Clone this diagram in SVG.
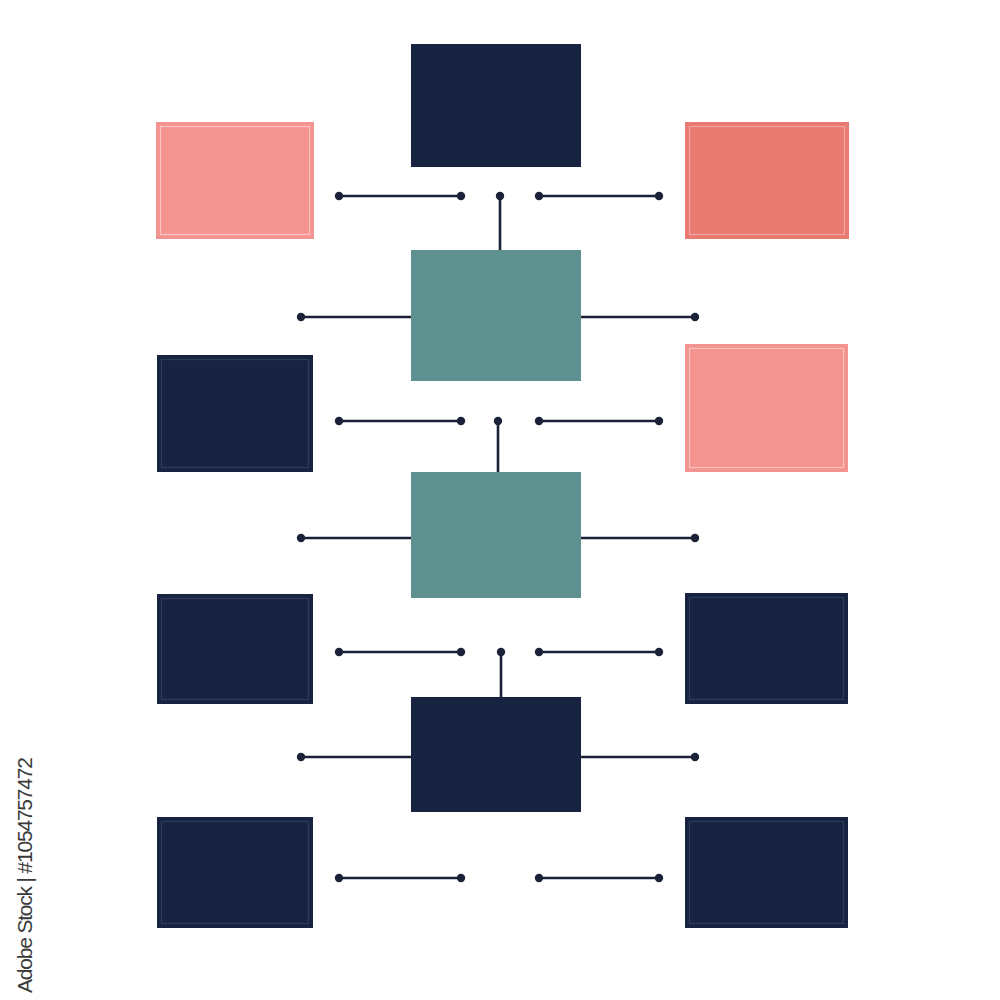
<svg xmlns="http://www.w3.org/2000/svg" width="1000" height="1000" viewBox="0 0 1000 1000">
<style>
.navy{fill:#172341}
.teal{fill:#5e9190}
.pink{fill:#f39490}
.coral{fill:#e97a71}
.inset-d{fill:none;stroke:#2e3c5c;stroke-width:1.2}
.inset-p{fill:none;stroke:#fbc3bf;stroke-width:1.2}
.conn line{stroke:#1b2238;stroke-width:2.6;stroke-linecap:round}
.conn circle{fill:#1b2238}
.credit{font-family:"Liberation Sans","Open Sans",sans-serif;font-size:21px;fill:#3a3a3a}
</style>
<rect width="1000" height="1000" fill="#ffffff"/>
<g id="connectors" class="conn">
  <line x1="339" y1="196" x2="461" y2="196"/><circle cx="339" cy="196" r="4.2"/><circle cx="461" cy="196" r="4.2"/>
  <line x1="539" y1="196" x2="659" y2="196"/><circle cx="539" cy="196" r="4.2"/><circle cx="659" cy="196" r="4.2"/>
  <line x1="500" y1="196" x2="500" y2="250"/><circle cx="500" cy="196" r="4.2"/>
  <line x1="301" y1="317" x2="411" y2="317"/><circle cx="301" cy="317" r="4.2"/>
  <line x1="581" y1="317" x2="695" y2="317"/><circle cx="695" cy="317" r="4.2"/>
  <line x1="339" y1="421" x2="461" y2="421"/><circle cx="339" cy="421" r="4.2"/><circle cx="461" cy="421" r="4.2"/>
  <line x1="539" y1="421" x2="659" y2="421"/><circle cx="539" cy="421" r="4.2"/><circle cx="659" cy="421" r="4.2"/>
  <line x1="498" y1="421" x2="498" y2="472"/><circle cx="498" cy="421" r="4.2"/>
  <line x1="301" y1="538" x2="411" y2="538"/><circle cx="301" cy="538" r="4.2"/>
  <line x1="581" y1="538" x2="695" y2="538"/><circle cx="695" cy="538" r="4.2"/>
  <line x1="339" y1="652" x2="461" y2="652"/><circle cx="339" cy="652" r="4.2"/><circle cx="461" cy="652" r="4.2"/>
  <line x1="539" y1="652" x2="659" y2="652"/><circle cx="539" cy="652" r="4.2"/><circle cx="659" cy="652" r="4.2"/>
  <line x1="501" y1="652" x2="501" y2="697"/><circle cx="501" cy="652" r="4.2"/>
  <line x1="301" y1="757" x2="411" y2="757"/><circle cx="301" cy="757" r="4.2"/>
  <line x1="581" y1="757" x2="695" y2="757"/><circle cx="695" cy="757" r="4.2"/>
  <line x1="339" y1="878" x2="461" y2="878"/><circle cx="339" cy="878" r="4.2"/><circle cx="461" cy="878" r="4.2"/>
  <line x1="539" y1="878" x2="659" y2="878"/><circle cx="539" cy="878" r="4.2"/><circle cx="659" cy="878" r="4.2"/>
</g>
<g id="center-top"><rect class="navy" x="411" y="44" width="170" height="123"/></g>
<g id="center-teal-1"><rect class="teal" x="411" y="250" width="170" height="131"/></g>
<g id="center-teal-2"><rect class="teal" x="411" y="472" width="170" height="126"/></g>
<g id="center-bottom"><rect class="navy" x="411" y="697" width="170" height="115"/></g>
<g id="left-1"><rect class="pink" x="156" y="122" width="158" height="117"/><rect class="inset-p" x="160.5" y="126.5" width="149" height="108"/></g>
<g id="right-1"><rect class="coral" x="685" y="122" width="164" height="117"/><rect class="inset-p" x="689.5" y="126.5" width="155" height="108" stroke-opacity="0.6"/></g>
<g id="left-2"><rect class="navy" x="157" y="355" width="156" height="117"/><rect class="inset-d" x="161.5" y="359.5" width="147" height="108"/></g>
<g id="right-2"><rect class="pink" x="685" y="344" width="163" height="128"/><rect class="inset-p" x="689.5" y="348.5" width="154" height="119"/></g>
<g id="left-3"><rect class="navy" x="157" y="594" width="156" height="110"/><rect class="inset-d" x="161.5" y="598.5" width="147" height="101"/></g>
<g id="right-3"><rect class="navy" x="685" y="593" width="163" height="111"/><rect class="inset-d" x="689.5" y="597.5" width="154" height="102"/></g>
<g id="left-4"><rect class="navy" x="157" y="817" width="156" height="111"/><rect class="inset-d" x="161.5" y="821.5" width="147" height="102"/></g>
<g id="right-4"><rect class="navy" x="685" y="817" width="163" height="111"/><rect class="inset-d" x="689.5" y="821.5" width="154" height="102"/></g>
<text class="credit" transform="translate(32,993) rotate(-90)" x="0" y="0" textLength="236" lengthAdjust="spacing">Adobe Stock | #1054757472</text>
</svg>
